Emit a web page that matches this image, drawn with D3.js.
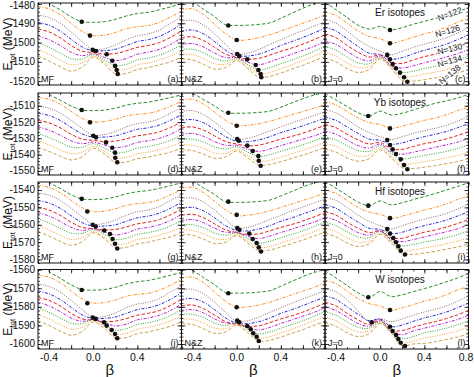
<!DOCTYPE html>
<html>
<head>
<meta charset="utf-8">
<script src="https://cdnjs.cloudflare.com/ajax/libs/d3/7.8.5/d3.min.js"></script>
<style>
body { margin: 0; background: white; }
text { font-family: "Liberation Sans", Arial, sans-serif; fill: #111; }
</style>
</head>
<body>
<svg id="chart"></svg>
<script>
// deformation grid (beta) shared by every curve
var beta = [-0.5, -0.4, -0.3, -0.2, -0.1, 0.0, 0.1, 0.2, 0.3, 0.4, 0.5, 0.6, 0.7, 0.8];
var neutronNumbers = [122, 124, 126, 128, 130, 132, 134, 136, 138];
var isotopes = ["Er", "Yb", "Hf", "W"];
var methods = ["MF", "N&Z", "J=0"];
var panelTags = [["(a)", "(b)", "(c)"], ["(d)", "(e)", "(f)"], ["(g)", "(h)", "(i)"], ["(j)", "(k)", "(l)"]];
var yTicks = [
  [-1480, -1490, -1500, -1510, -1520],
  [-1510, -1520, -1530, -1540, -1550],
  [-1540, -1550, -1560, -1570, -1580],
  [-1560, -1570, -1580, -1590, -1600]
];
var yDomains = [[-1522, -1479.5], [-1552.5, -1502.2], [-1582, -1535.4], [-1602.7, -1559.9]];
var xTickLabels = [[-0.4, 0.0, 0.4], [-0.4, 0.0, 0.4], [-0.4, 0.0, 0.4, 0.8]];

// E_tot (MeV) per curve, N = 122 ... 138
var erMF = [
  [-1472, -1479.5, -1483, -1486.7, -1489.2, -1489.5, -1489.2, -1488, -1486.2, -1485, -1484.3, -1483, -1481.5, -1479.8],
  [-1481.4, -1482.5, -1485.5, -1490, -1494.2, -1496.4, -1496.2, -1494.8, -1492.8, -1491.8, -1491.2, -1489.5, -1486.8, -1483.8],
  [-1485.7, -1487, -1490, -1494.5, -1499.5, -1503.6, -1503.2, -1501.3, -1498.5, -1496.5, -1495.5, -1493.5, -1490, -1486.8],
  [-1489.5, -1491, -1494, -1498.3, -1502.3, -1504.3, -1504.2, -1503.5, -1501.5, -1499.5, -1498.5, -1496.8, -1494, -1490.5],
  [-1493, -1494.5, -1497.5, -1501.5, -1504.5, -1505.2, -1506, -1505.7, -1504.3, -1502.5, -1501.5, -1500, -1497.3, -1494],
  [-1496.5, -1498.5, -1501.5, -1505, -1506.8, -1505.8, -1507.6, -1509.3, -1508.3, -1506, -1505, -1503.5, -1501, -1497.5],
  [-1500, -1502.5, -1505.5, -1508.3, -1508.5, -1506.3, -1509, -1512, -1511.3, -1509, -1508, -1506.5, -1504.2, -1501],
  [-1503.5, -1506, -1509, -1511.5, -1510.5, -1507, -1510, -1514.1, -1513.8, -1511.5, -1510.5, -1509, -1507, -1504.5],
  [-1507, -1509.5, -1512.5, -1514.8, -1512.8, -1507.6, -1511, -1516.2, -1516, -1514, -1513, -1511.5, -1510, -1507.5]
];
var erNZ = [
  [-1477.5, -1479, -1482.8, -1486.6, -1490.8, -1491.1, -1491, -1490.6, -1489.8, -1487.4, -1484.8, -1482.2, -1480, -1478.5],
  [-1483, -1482.5, -1485.5, -1490.5, -1495.5, -1498.7, -1498.5, -1497.5, -1496, -1494, -1492, -1490, -1488, -1485.7],
  [-1489, -1488.5, -1491, -1495.5, -1501, -1505.8, -1505.5, -1503.5, -1501, -1498.5, -1496, -1493.8, -1491.5, -1489.2],
  [-1494, -1493.5, -1495.5, -1499.5, -1504, -1506.8, -1507, -1506, -1504, -1501.5, -1499.5, -1497.3, -1495, -1492.6],
  [-1497.5, -1497, -1499, -1502.5, -1506, -1507.5, -1508.6, -1508.2, -1506.5, -1504.5, -1502.8, -1500.8, -1498.5, -1496],
  [-1501, -1500.5, -1502.3, -1505.5, -1507.8, -1507.8, -1510.2, -1511.5, -1510, -1508, -1506, -1504, -1502, -1499.5],
  [-1503.5, -1503.5, -1505.3, -1508.3, -1509.5, -1508.2, -1511.5, -1514.1, -1513, -1511, -1509, -1507, -1504.5, -1502.1],
  [-1506, -1506.3, -1508.3, -1511, -1511.3, -1508.7, -1512.5, -1516.2, -1515.5, -1513.5, -1511.5, -1509.3, -1507, -1504.7],
  [-1508.5, -1509, -1511.3, -1513.8, -1513, -1509.3, -1513.5, -1517.9, -1517.5, -1515.8, -1513.8, -1511.8, -1509.5, -1507.3]
];
var erJ0 = [
  [-1479, -1483, -1487, -1491, -1493, -1491.6, -1493.4, -1492.3, -1490.5, -1489, -1487.5, -1486, -1484, -1482],
  [-1484, -1486, -1490, -1494, -1496.8, -1498, -1500.3, -1499, -1497.3, -1495.5, -1494, -1492, -1489.5, -1487.5],
  [-1488, -1490, -1494, -1498.5, -1502, -1504.5, -1506.3, -1504.5, -1502.5, -1500.8, -1499.3, -1497.5, -1495, -1492],
  [-1492, -1494, -1498, -1502, -1505.5, -1506.2, -1508.6, -1507.8, -1505.8, -1504, -1502.5, -1500.8, -1498.5, -1496],
  [-1495.5, -1497.5, -1501.5, -1505, -1507.5, -1506.5, -1510.5, -1510.8, -1509, -1507.3, -1506, -1504.3, -1502.3, -1500],
  [-1499, -1501, -1504.5, -1508, -1509.5, -1507, -1512, -1513.2, -1512, -1510.5, -1509, -1507.5, -1505.8, -1503.5],
  [-1502, -1504, -1507.5, -1510.5, -1511, -1507.5, -1512.5, -1515.5, -1514.8, -1513.5, -1512.3, -1511, -1509.2, -1507],
  [-1505, -1507, -1510.5, -1513, -1512.5, -1508, -1513, -1517.8, -1517.5, -1516.3, -1515.3, -1514, -1512.5, -1510.5],
  [-1508, -1510, -1513.5, -1515.5, -1514, -1508.5, -1513.5, -1519.5, -1520, -1519.2, -1518.3, -1517, -1515.8, -1514]
];
var ybMF = [
  [-1495.5, -1503, -1506.5, -1510.2, -1512.7, -1513, -1512.7, -1511.5, -1509.7, -1508.5, -1507.8, -1506.5, -1505, -1503.3],
  [-1504.9, -1506, -1509, -1513.5, -1517.7, -1519.9, -1519.7, -1518.3, -1516.3, -1515.3, -1514.7, -1513, -1510.3, -1507.3],
  [-1510.2, -1511.5, -1514.5, -1519, -1524, -1528.1, -1527.7, -1525.8, -1523, -1521, -1520, -1518, -1514.5, -1511.3],
  [-1514.5, -1516, -1519, -1523.3, -1527.3, -1529.3, -1529.2, -1528.5, -1526.5, -1524.5, -1523.5, -1521.8, -1519, -1515.5],
  [-1519, -1520.5, -1523.5, -1527.5, -1530.5, -1531.2, -1532, -1531.7, -1530.3, -1528.5, -1527.5, -1526, -1523.3, -1520],
  [-1523, -1525, -1528, -1531.5, -1533.3, -1532.3, -1534.1, -1535.8, -1534.8, -1532.5, -1531.5, -1530, -1527.5, -1524],
  [-1527, -1529.5, -1532.5, -1535.3, -1535.5, -1533.3, -1536, -1539, -1538.3, -1536, -1535, -1533.5, -1531.2, -1528],
  [-1531.5, -1534, -1537, -1539.5, -1538.5, -1535, -1538, -1542.1, -1541.8, -1539.5, -1538.5, -1537, -1535, -1532.5],
  [-1535.5, -1538, -1541, -1543.3, -1541.3, -1536.1, -1539.5, -1544.7, -1544.5, -1542.5, -1541.5, -1540, -1538.5, -1536]
];
var ybNZ = [
  [-1501, -1502.5, -1506.3, -1510.1, -1514.3, -1514.6, -1514.5, -1514.1, -1513.3, -1510.9, -1508.3, -1505.7, -1503.5, -1502],
  [-1506.5, -1506, -1509, -1514, -1519, -1522.2, -1522, -1521, -1519.5, -1517.5, -1515.5, -1513.5, -1511.5, -1509.2],
  [-1513.5, -1513, -1515.5, -1520, -1525.5, -1530.3, -1530, -1528, -1525.5, -1523, -1520.5, -1518.3, -1516, -1513.7],
  [-1519, -1518.5, -1520.5, -1524.5, -1529, -1531.8, -1532, -1531, -1529, -1526.5, -1524.5, -1522.3, -1520, -1517.6],
  [-1523.5, -1523, -1525, -1528.5, -1532, -1533.5, -1534.6, -1534.2, -1532.5, -1530.5, -1528.8, -1526.8, -1524.5, -1522],
  [-1527.5, -1527, -1528.8, -1532, -1534.3, -1534.3, -1536.7, -1538, -1536.5, -1534.5, -1532.5, -1530.5, -1528.5, -1526],
  [-1530.5, -1530.5, -1532.3, -1535.3, -1536.5, -1535.2, -1538.5, -1541.1, -1540, -1538, -1536, -1534, -1531.5, -1529.1],
  [-1534, -1534.3, -1536.3, -1539, -1539.3, -1536.7, -1540.5, -1544.2, -1543.5, -1541.5, -1539.5, -1537.3, -1535, -1532.7],
  [-1537, -1537.5, -1539.8, -1542.3, -1541.5, -1537.8, -1542, -1546.4, -1546, -1544.3, -1542.3, -1540.3, -1538, -1535.8]
];
var ybJ0 = [
  [-1502.5, -1506.5, -1510.5, -1514.3, -1516.3, -1513.3, -1515.7, -1514.6, -1512.6, -1510.5, -1508.5, -1507, -1505.3, -1503],
  [-1507.5, -1509.5, -1513.5, -1517.5, -1520.3, -1521.5, -1523.8, -1522.5, -1520.8, -1519, -1517.5, -1515.5, -1513, -1511],
  [-1512.5, -1514.5, -1518.5, -1523, -1526.5, -1529, -1530.8, -1529, -1527, -1525.3, -1523.8, -1522, -1519.5, -1516.5],
  [-1517, -1519, -1523, -1527, -1530.5, -1531.2, -1533.6, -1532.8, -1530.8, -1529, -1527.5, -1525.8, -1523.5, -1521],
  [-1521.5, -1523.5, -1527.5, -1531, -1533.5, -1532.5, -1536.5, -1536.8, -1535, -1533.3, -1532, -1530.3, -1528.3, -1526],
  [-1525.5, -1527.5, -1531, -1534.5, -1536, -1533.5, -1538.5, -1539.7, -1538.5, -1537, -1535.5, -1534, -1532.3, -1530],
  [-1529, -1531, -1534.5, -1537.5, -1538, -1534.5, -1539.5, -1542.5, -1541.8, -1540.5, -1539.3, -1538, -1536.2, -1534],
  [-1533, -1535, -1538.5, -1541, -1540.5, -1536, -1541, -1545.8, -1545.5, -1544.3, -1543.3, -1542, -1540.5, -1538.5],
  [-1536.5, -1538.5, -1542, -1544, -1542.5, -1537, -1542, -1548, -1548.5, -1547.7, -1546.8, -1545.5, -1544.3, -1542.5]
];
var hfMF = [
  [-1528, -1535.5, -1539, -1542.7, -1545.2, -1545.5, -1545.2, -1544, -1542.2, -1541, -1540.3, -1539, -1537.5, -1535.8],
  [-1537.4, -1538.5, -1541.5, -1546, -1550.2, -1552.4, -1552.2, -1550.8, -1548.8, -1547.8, -1547.2, -1545.5, -1542.8, -1539.8],
  [-1541.7, -1543, -1546, -1550.5, -1555.5, -1559.6, -1559.2, -1557.3, -1554.5, -1552.5, -1551.5, -1549.5, -1546, -1542.8],
  [-1546, -1547.5, -1550.5, -1554.8, -1558.8, -1560.8, -1560.7, -1560, -1558, -1556, -1555, -1553.3, -1550.5, -1547],
  [-1550, -1551.5, -1554.5, -1558.5, -1561.5, -1562.2, -1563, -1562.7, -1561.3, -1559.5, -1558.5, -1557, -1554.3, -1551],
  [-1553, -1555, -1558, -1561.5, -1563.3, -1562.3, -1564.1, -1565.8, -1564.8, -1562.5, -1561.5, -1560, -1557.5, -1554],
  [-1556.5, -1559, -1562, -1564.8, -1565, -1562.8, -1565.5, -1568.5, -1567.8, -1565.5, -1564.5, -1563, -1560.7, -1557.5],
  [-1560.5, -1563, -1566, -1568.5, -1567.5, -1564, -1567, -1571.1, -1570.8, -1568.5, -1567.5, -1566, -1564, -1561.5],
  [-1564, -1566.5, -1569.5, -1571.8, -1569.8, -1564.6, -1568, -1573.2, -1573, -1571, -1570, -1568.5, -1567, -1564.5]
];
var hfNZ = [
  [-1533.5, -1535, -1538.8, -1542.6, -1546.8, -1547.1, -1547, -1546.6, -1545.8, -1543.4, -1540.8, -1538.2, -1536, -1534.5],
  [-1539, -1538.5, -1541.5, -1546.5, -1551.5, -1554.7, -1554.5, -1553.5, -1552, -1550, -1548, -1546, -1544, -1541.7],
  [-1545, -1544.5, -1547, -1551.5, -1557, -1561.8, -1561.5, -1559.5, -1557, -1554.5, -1552, -1549.8, -1547.5, -1545.2],
  [-1550.5, -1550, -1552, -1556, -1560.5, -1563.3, -1563.5, -1562.5, -1560.5, -1558, -1556, -1553.8, -1551.5, -1549.1],
  [-1554.5, -1554, -1556, -1559.5, -1563, -1564.5, -1565.6, -1565.2, -1563.5, -1561.5, -1559.8, -1557.8, -1555.5, -1553],
  [-1557.5, -1557, -1558.8, -1562, -1564.3, -1564.3, -1566.7, -1568, -1566.5, -1564.5, -1562.5, -1560.5, -1558.5, -1556],
  [-1560, -1560, -1561.8, -1564.8, -1566, -1564.7, -1568, -1570.6, -1569.5, -1567.5, -1565.5, -1563.5, -1561, -1558.6],
  [-1563, -1563.3, -1565.3, -1568, -1568.3, -1565.7, -1569.5, -1573.2, -1572.5, -1570.5, -1568.5, -1566.3, -1564, -1561.7],
  [-1565.5, -1566, -1568.3, -1570.8, -1570, -1566.3, -1570.5, -1574.9, -1574.5, -1572.8, -1570.8, -1568.8, -1566.5, -1564.3]
];
var hfJ0 = [
  [-1535, -1539, -1543, -1547, -1549, -1546.3, -1548.6, -1547.3, -1545.5, -1543.8, -1542, -1540, -1538, -1535.8],
  [-1540, -1542, -1546, -1550, -1552.8, -1554, -1556.3, -1555, -1553.3, -1551.5, -1550, -1548, -1545.5, -1543.5],
  [-1544, -1546, -1550, -1554.5, -1558, -1560.5, -1562.3, -1560.5, -1558.5, -1556.8, -1555.3, -1553.5, -1551, -1548],
  [-1548.5, -1550.5, -1554.5, -1558.5, -1562, -1562.7, -1565.1, -1564.3, -1562.3, -1560.5, -1559, -1557.3, -1555, -1552.5],
  [-1552.5, -1554.5, -1558.5, -1562, -1564.5, -1563.5, -1567.5, -1567.8, -1566, -1564.3, -1563, -1561.3, -1559.3, -1557],
  [-1555.5, -1557.5, -1561, -1564.5, -1566, -1563.5, -1568.5, -1569.7, -1568.5, -1567, -1565.5, -1564, -1562.3, -1560],
  [-1558.5, -1560.5, -1564, -1567, -1567.5, -1564, -1569, -1572, -1571.3, -1570, -1568.8, -1567.5, -1565.7, -1563.5],
  [-1562, -1564, -1567.5, -1570, -1569.5, -1565, -1570, -1574.8, -1574.5, -1573.3, -1572.3, -1571, -1569.5, -1567.5],
  [-1565, -1567, -1570.5, -1572.5, -1571, -1565.5, -1570.5, -1576.5, -1577, -1576.2, -1575.3, -1574, -1572.8, -1571]
];
var wMF = [
  [-1553.5, -1561, -1564.5, -1568.2, -1570.7, -1571, -1570.7, -1569.5, -1567.7, -1566.5, -1565.8, -1564.5, -1563, -1561.3],
  [-1562.9, -1564, -1567, -1571.5, -1575.7, -1577.9, -1577.7, -1576.3, -1574.3, -1573.3, -1572.7, -1571, -1568.3, -1565.3],
  [-1567.7, -1569, -1572, -1576.5, -1581.5, -1585.6, -1585.2, -1583.3, -1580.5, -1578.5, -1577.5, -1575.5, -1572, -1568.8],
  [-1571.5, -1573, -1576, -1580.3, -1584.3, -1586.3, -1586.2, -1585.5, -1583.5, -1581.5, -1580.5, -1578.8, -1576, -1572.5],
  [-1575, -1576.5, -1579.5, -1583.5, -1586.5, -1587.2, -1588, -1587.7, -1586.3, -1584.5, -1583.5, -1582, -1579.3, -1576],
  [-1577.5, -1579.5, -1582.5, -1586, -1587.8, -1586.8, -1588.6, -1590.3, -1589.3, -1587, -1586, -1584.5, -1582, -1578.5],
  [-1580.5, -1583, -1586, -1588.8, -1589, -1586.8, -1589.5, -1592.5, -1591.8, -1589.5, -1588.5, -1587, -1584.7, -1581.5],
  [-1584, -1586.5, -1589.5, -1592, -1591, -1587.5, -1590.5, -1594.6, -1594.3, -1592, -1591, -1589.5, -1587.5, -1585],
  [-1587.5, -1590, -1593, -1595.3, -1593.3, -1588.1, -1591.5, -1596.7, -1596.5, -1594.5, -1593.5, -1592, -1590.5, -1588]
];
var wNZ = [
  [-1559, -1560.5, -1564.3, -1568.1, -1572.3, -1572.6, -1572.5, -1572.1, -1571.3, -1568.9, -1566.3, -1563.7, -1561.5, -1560],
  [-1564.5, -1564, -1567, -1572, -1577, -1580.2, -1580, -1579, -1577.5, -1575.5, -1573.5, -1571.5, -1569.5, -1567.2],
  [-1571, -1570.5, -1573, -1577.5, -1583, -1587.8, -1587.5, -1585.5, -1583, -1580.5, -1578, -1575.8, -1573.5, -1571.2],
  [-1576, -1575.5, -1577.5, -1581.5, -1586, -1588.8, -1589, -1588, -1586, -1583.5, -1581.5, -1579.3, -1577, -1574.6],
  [-1579.5, -1579, -1581, -1584.5, -1588, -1589.5, -1590.6, -1590.2, -1588.5, -1586.5, -1584.8, -1582.8, -1580.5, -1578],
  [-1582, -1581.5, -1583.3, -1586.5, -1588.8, -1588.8, -1591.2, -1592.5, -1591, -1589, -1587, -1585, -1583, -1580.5],
  [-1584, -1584, -1585.8, -1588.8, -1590, -1588.7, -1592, -1594.6, -1593.5, -1591.5, -1589.5, -1587.5, -1585, -1582.6],
  [-1586.5, -1586.8, -1588.8, -1591.5, -1591.8, -1589.2, -1593, -1596.7, -1596, -1594, -1592, -1589.8, -1587.5, -1585.2],
  [-1589, -1589.5, -1591.8, -1594.3, -1593.5, -1589.8, -1594, -1598.4, -1598, -1596.3, -1594.3, -1592.3, -1590, -1587.8]
];
var wJ0 = [
  [-1560.5, -1564.5, -1568.5, -1572.5, -1574.8, -1571.8, -1574.5, -1573.5, -1571.8, -1570.2, -1568.5, -1566.5, -1564.5, -1562],
  [-1565.5, -1567.5, -1571.5, -1575.5, -1578.3, -1579.5, -1581.8, -1580.5, -1578.8, -1577, -1575.5, -1573.5, -1571, -1569],
  [-1570, -1572, -1576, -1582.5, -1588, -1586.5, -1588, -1586.5, -1584.5, -1582.8, -1581.3, -1579.5, -1577, -1574],
  [-1574, -1576, -1580, -1584, -1587.5, -1586.5, -1590.6, -1589.8, -1587.8, -1586, -1584.5, -1582.8, -1580.5, -1578],
  [-1577.5, -1579.5, -1583.5, -1587, -1589.5, -1587, -1592.5, -1592.8, -1591, -1589.3, -1588, -1586.3, -1584.3, -1582],
  [-1580, -1582, -1585.5, -1589, -1590.5, -1587.5, -1593.5, -1595, -1593, -1591.5, -1590, -1588.5, -1586.8, -1584.5],
  [-1582.5, -1584.5, -1588, -1591, -1591.5, -1588, -1593, -1597, -1596, -1594, -1592.8, -1591.5, -1589.7, -1587.5],
  [-1585.5, -1587.5, -1591, -1593.5, -1593, -1588.5, -1593.5, -1599, -1598.5, -1596.8, -1595.8, -1594.5, -1593, -1591],
  [-1588.5, -1590.5, -1594, -1596, -1594.5, -1589, -1594, -1601, -1600, -1599.7, -1598.8, -1597.5, -1596.3, -1594.5]
];

// equilibrium points [beta, E] for each curve
var erMFmin = [[-0.104, -1489.2], [-0.029, -1496.4], [-0.004, -1503.8], [0.025, -1504.4], [0.122, -1506.1], [0.173, -1509.4], [0.198, -1512.1], [0.213, -1514.2], [0.222, -1516.3]];
var erNZmin = [[-0.076, -1491.2], [0.0, -1498.7], [0.005, -1505.9], [0.024, -1507], [0.096, -1508.7], [0.172, -1511.6], [0.196, -1514.2], [0.217, -1516.3], [0.223, -1518]];
var erJ0min = [[0.089, -1493.5], [0.089, -1500.4], [0.064, -1506.4], [0.089, -1508.7], [0.113, -1511.1], [0.143, -1513.3], [0.179, -1515.6], [0.216, -1518], [0.246, -1520.3]];
var ybMFmin = [[-0.104, -1512.6], [-0.029, -1520.2], [0.001, -1528.4], [0.025, -1529.4], [0.116, -1532.5], [0.173, -1535.8], [0.198, -1538.8], [0.2, -1541.9], [0.218, -1544.7]];
var ybNZmin = [[-0.076, -1514.3], [0.0, -1522.3], [0.005, -1530.4], [0.018, -1531.5], [0.096, -1534.5], [0.145, -1537.8], [0.196, -1540.9], [0.2, -1543.8], [0.217, -1546.8]];
var ybJ0min = [[-0.108, -1516.3], [0.089, -1523.9], [0.064, -1531], [0.089, -1534.1], [0.113, -1536.8], [0.143, -1539.6], [0.186, -1542.9], [0.216, -1546.4], [0.246, -1549]];
var hfMFmin = [[-0.104, -1545.1], [-0.053, -1552.4], [-0.004, -1560], [0.023, -1561], [0.1, -1563.3], [0.152, -1565.3], [0.176, -1568.2], [0.198, -1570.9], [0.218, -1573.7]];
var hfNZmin = [[-0.076, -1546.7], [0.0, -1554.3], [0.005, -1561.9], [0.024, -1562.9], [0.114, -1565.1], [0.145, -1568.2], [0.181, -1570.5], [0.2, -1573], [0.22, -1575.4]];
var hfJ0min = [[-0.108, -1549], [0.089, -1556.2], [0.064, -1562.5], [0.089, -1565.1], [0.119, -1567.6], [0.143, -1570.1], [0.164, -1572.4], [0.186, -1574.9], [0.225, -1577.1]];
var wMFmin = [[-0.104, -1570.9], [-0.053, -1578.1], [-0.004, -1585.8], [0.023, -1586.5], [0.098, -1588.3], [0.122, -1590.1], [0.167, -1592.5], [0.198, -1594.6], [0.218, -1596.9]];
var wNZmin = [[-0.076, -1572.7], [0.0, -1580.2], [0.005, -1587.4], [0.024, -1588.3], [0.096, -1590.3], [0.127, -1592.1], [0.15, -1594.2], [0.181, -1596.1], [0.2, -1598.4]];
var wJ0min = [[-0.108, -1574.8], [0.089, -1581.7], [-0.077, -1588.3], [0.089, -1590.7], [0.113, -1593], [0.143, -1595.1], [0.164, -1597.3], [0.186, -1599.3], [0.225, -1601.1]];

var curves = [[erMF, erNZ, erJ0], [ybMF, ybNZ, ybJ0], [hfMF, hfNZ, hfJ0], [wMF, wNZ, wJ0]];
var minima = [[erMFmin, erNZmin, erJ0min], [ybMFmin, ybNZmin, ybJ0min], [hfMFmin, hfNZmin, hfJ0min], [wMFmin, wNZmin, wJ0min]];

// labels of selected curves in panel (c)
var curveTags = [0, 2, 4, 6, 8];
var curveTagAt = [[0.63, -1485.2, -20], [0.61, -1494, -17], [0.63, -1503.3, -14], [0.63, -1509.6, -16], [0.63, -1516.5, -40]];

// layout
const width = 474, height = 377;
const colLeft = [38, 181.5, 325], colWidth = 143.5;
const rowTop = [3, 93, 182, 269.5], rowHeight = [82, 82, 81, 79.5];
const lineColors = ["#2b8c2b", "#ff8a1c", "#9a6272", "#2424d6", "#e41e1e", "#b41ccc", "#2aa42a", "#ff9b2c", "#c9a34c"];
const lineDash = ["3.5,2", "3,1.5,1,1.5", "1,1.4", "3,1.5,1,1.5", "3.5,2", "3,1.5,1,1.5", "1,1.4", "1,1.4", "3.5,2"];

var svg = d3.select("#chart").attr("width", width).attr("height", height);

var line = (x, y) => d3.line()
  .x((d, i) => x(beta[i]))
  .y(d => y(d))
  .curve(d3.curveCatmullRom.alpha(0.5));

isotopes.forEach((iso, r) => {
  var y = d3.scaleLinear().domain(yDomains[r]).range([rowTop[r] + rowHeight[r], rowTop[r]]);
  var minorY = d3.range(Math.ceil(yDomains[r][0] / 2) * 2, yDomains[r][1], 2);

  methods.forEach((method, c) => {
    var x = d3.scaleLinear().domain([-0.5, 0.8]).range([colLeft[c], colLeft[c] + colWidth]);
    var g = svg.append("g");
    var clipId = "clip" + r + "_" + c;
    g.append("clipPath").attr("id", clipId).append("rect")
      .attr("x", colLeft[c]).attr("y", rowTop[r]).attr("width", colWidth).attr("height", rowHeight[r]);

    var plot = g.append("g").attr("clip-path", "url(#" + clipId + ")");
    plot.selectAll("path")
      .data(curves[r][c])
      .enter()
      .append("path")
      .attr("fill", "none")
      .attr("stroke", (d, i) => lineColors[i])
      .attr("stroke-width", 1)
      .attr("stroke-dasharray", (d, i) => lineDash[i])
      .attr("d", line(x, y));

    plot.selectAll("circle")
      .data(minima[r][c])
      .enter()
      .append("circle")
      .attr("cx", d => x(d[0]))
      .attr("cy", d => y(d[1]))
      .attr("r", 2.3)
      .attr("fill", "#111");

    // inward ticks on all four sides
    var bottom = rowTop[r] + rowHeight[r], right = colLeft[c] + colWidth;
    var axes = [
      [d3.axisLeft(y).tickValues(yTicks[r]).tickSize(-4), "translate(" + colLeft[c] + ",0)"],
      [d3.axisLeft(y).tickValues(minorY).tickSize(-2), "translate(" + colLeft[c] + ",0)"],
      [d3.axisRight(y).tickValues(yTicks[r]).tickSize(-4), "translate(" + right + ",0)"],
      [d3.axisRight(y).tickValues(minorY).tickSize(-2), "translate(" + right + ",0)"],
      [d3.axisBottom(x).tickValues(d3.range(-0.4, 0.81, 0.2)).tickSize(-4), "translate(0," + bottom + ")"],
      [d3.axisBottom(x).tickValues(d3.range(-0.5, 0.81, 0.1)).tickSize(-2), "translate(0," + bottom + ")"],
      [d3.axisTop(x).tickValues(d3.range(-0.4, 0.81, 0.2)).tickSize(-4), "translate(0," + rowTop[r] + ")"],
      [d3.axisTop(x).tickValues(d3.range(-0.5, 0.81, 0.1)).tickSize(-2), "translate(0," + rowTop[r] + ")"]
    ];
    axes.forEach(a => {
      var ax = g.append("g").attr("transform", a[1]).call(a[0].tickFormat(""));
      ax.select(".domain").remove();
      ax.selectAll("line").attr("stroke", "#111").attr("stroke-width", 0.8);
    });
    if (c === 0) {
      g.selectAll(".ylab").data(yTicks[r]).enter().append("text")
        .attr("x", colLeft[c] - 3).attr("y", d => Math.max(y(d) + 3.5, 9))
        .attr("text-anchor", "end").style("font-size", "10px")
        .text(d => String(d));
    }
    if (r === 3) {
      g.selectAll(".xlab").data(xTickLabels[c]).enter().append("text")
        .attr("x", d => Math.min(x(d), width - 8)).attr("y", bottom + 12)
        .attr("text-anchor", "middle").style("font-size", "10.5px")
        .text(d => d.toFixed(1));
    }

    g.append("rect")
      .attr("x", colLeft[c]).attr("y", rowTop[r]).attr("width", colWidth).attr("height", rowHeight[r])
      .attr("fill", "none").attr("stroke", "#111").attr("stroke-width", 1);

    g.append("text").attr("x", colLeft[c] + 3).attr("y", bottom - 3)
      .style("font-size", "9px").text(method);
    g.append("text").attr("x", right - 3).attr("y", bottom - 3)
      .attr("text-anchor", "end").style("font-size", "9px").text(panelTags[r][c]);

    if (c === 2) {
      g.append("text").attr("x", colLeft[c] + 75).attr("y", rowTop[r] + 13)
        .attr("text-anchor", "middle").style("font-size", "10px").text(iso + " isotopes");
    }
    if (r === 0 && c === 2) {
      g.selectAll(".ntag").data(curveTags).enter().append("text")
        .attr("transform", (d, i) => "translate(" + x(curveTagAt[i][0]) + "," + y(curveTagAt[i][1]) + ") rotate(" + curveTagAt[i][2] + ")")
        .attr("text-anchor", "middle").attr("dy", "0.35em")
        .style("font-size", "8.5px")
        .style("paint-order", "stroke").style("stroke", "white").style("stroke-width", "2px")
        .text(d => "N=" + neutronNumbers[d]);
    }
  });

  // y axis title
  var yt = svg.append("text")
    .attr("transform", "translate(12," + (rowTop[r] + rowHeight[r] / 2) + ") rotate(-90)")
    .attr("text-anchor", "middle").style("font-size", "12px");
  yt.append("tspan").text("E");
  yt.append("tspan").attr("dy", 3).style("font-size", "8px").text("tot");
  yt.append("tspan").attr("dy", -3).text(" (MeV)");
});

methods.forEach((m, c) => {
  svg.append("text").attr("x", colLeft[c] + colWidth / 2).attr("y", 375)
    .attr("text-anchor", "middle").style("font-size", "15px").text("β");
});
</script>
</body>
</html>
